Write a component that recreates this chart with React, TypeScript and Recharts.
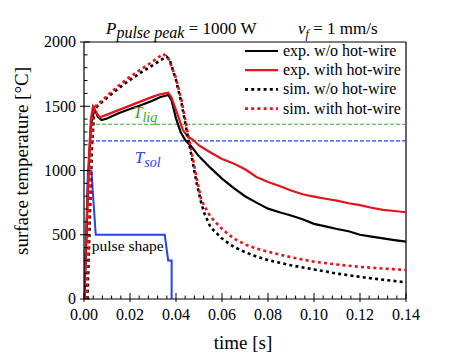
import React from "react";
import { LineChart, Line, XAxis, YAxis, ReferenceLine, ReferenceDot } from "recharts";

const FONT = '"Liberation Serif", "Times New Roman", Times, serif';
const RED = "#e5141b";
const BLUE = "#2443e8";
const GREEN = "#2faa24";
const serif = { fontFamily: FONT };

// ---- data ----
const expNoWireT = [0, 0.001, 0.002, 0.003, 0.0045, 0.006, 0.0076, 0.010, 0.015, 0.020, 0.025, 0.030, 0.033, 0.0366, 0.038, 0.040, 0.042, 0.044, 0.047, 0.050, 0.055, 0.060, 0.065, 0.070, 0.075, 0.080, 0.085, 0.090, 0.095, 0.100, 0.105, 0.110, 0.115, 0.120, 0.125, 0.130, 0.135, 0.140];
const expNoWireV = [0, 450, 1000, 1350, 1480, 1420, 1393, 1405, 1445, 1478, 1510, 1545, 1570, 1588, 1550, 1406, 1300, 1237, 1180, 1110, 1020, 937, 865, 800, 750, 703, 675, 650, 620, 585, 565, 545, 527, 500, 485, 472, 458, 446];

const expWireT = [0, 0.001, 0.002, 0.003, 0.0039, 0.005, 0.0068, 0.010, 0.015, 0.020, 0.025, 0.030, 0.033, 0.0366, 0.038, 0.041, 0.043, 0.045, 0.0475, 0.050, 0.055, 0.060, 0.065, 0.070, 0.075, 0.080, 0.085, 0.090, 0.095, 0.100, 0.105, 0.110, 0.115, 0.120, 0.125, 0.130, 0.135, 0.140];
const expWireV = [0, 500, 1050, 1400, 1497, 1460, 1414, 1435, 1470, 1505, 1540, 1575, 1593, 1606, 1570, 1419, 1315, 1265, 1237, 1195, 1140, 1090, 1055, 1010, 950, 910, 880, 845, 815, 797, 780, 765, 745, 730, 710, 693, 685, 675];

const simNoWireT = [0.0015, 0.0025, 0.0035, 0.0045, 0.006, 0.010, 0.015, 0.020, 0.025, 0.030, 0.033, 0.0359, 0.0373, 0.040, 0.0424, 0.0446, 0.0468, 0.049, 0.051, 0.0525, 0.055, 0.060, 0.065, 0.070, 0.075, 0.080, 0.090, 0.100, 0.110, 0.120, 0.130, 0.140];
const simNoWireV = [0, 600, 1200, 1470, 1505, 1565, 1640, 1705, 1765, 1820, 1855, 1886, 1860, 1704, 1523, 1315, 1107, 900, 745, 660, 560, 470, 407, 365, 330, 303, 262, 230, 198, 172, 150, 130];

const simWireT = [0.001, 0.002, 0.003, 0.004, 0.005, 0.010, 0.015, 0.020, 0.025, 0.030, 0.0344, 0.0365, 0.040, 0.0424, 0.0446, 0.0468, 0.049, 0.051, 0.0525, 0.055, 0.060, 0.065, 0.070, 0.075, 0.080, 0.090, 0.100, 0.110, 0.120, 0.130, 0.140];
const simWireV = [0, 550, 1150, 1450, 1500, 1580, 1660, 1730, 1790, 1850, 1907, 1880, 1720, 1545, 1340, 1140, 940, 770, 720, 640, 545, 472, 425, 392, 368, 325, 290, 268, 250, 237, 226];

const pulseT = [0.0003, 0.0017, 0.0032, 0.0051, 0.0351, 0.0366, 0.0381, 0.0381];
const pulseV = [0, 1000, 1000, 500, 500, 300, 300, 0];

const T_LIQ = 1360;
const T_SOL = 1230;

const xMajorTicks = [0, 0.02, 0.04, 0.06, 0.08, 0.1, 0.12, 0.14];
const xAllTicks = [0, 0.004, 0.008, 0.012, 0.016, 0.02, 0.024, 0.028, 0.032, 0.036, 0.04, 0.044, 0.048, 0.052, 0.056, 0.06, 0.064, 0.068, 0.072, 0.076, 0.08, 0.084, 0.088, 0.092, 0.096, 0.1, 0.104, 0.108, 0.112, 0.116, 0.12, 0.124, 0.128, 0.132, 0.136, 0.14];
const yMajorTicks = [0, 500, 1000, 1500, 2000];
const yAllTicks = [0, 100, 200, 300, 400, 500, 600, 700, 800, 900, 1000, 1100, 1200, 1300, 1400, 1500, 1600, 1700, 1800, 1900, 2000];

const legendLabels = ["exp. w/o hot-wire", "exp. with hot-wire", "sim. w/o hot-wire", "sim. with hot-wire"];
const legendColors = ["#000", RED, "#000", RED];
const legendDashed = [false, false, true, true];

const zip = (t: number[], v: number[]) => t.map((x, i) => ({ t: x, v: v[i] }));

const isMajor = (arr: number[], v: number) => arr.some((m) => Math.abs(m - v) < 1e-9);

const XTick = (props: any) => {
  const { x, y, payload } = props;
  const v = payload.value as number;
  const major = isMajor(xMajorTicks, v);
  return (
    <g>
      <line x1={x} x2={x} y1={y + (major ? 3 : 0)} y2={y - (major ? 6 : 3.5)} stroke="#000" strokeWidth={1} />
      {major && (
        <text x={x} y={y + 21} textAnchor="middle" style={serif} fontSize={16} fill="#000">
          {v.toFixed(2)}
        </text>
      )}
    </g>
  );
};

const YTick = (props: any) => {
  const { x, y, payload } = props;
  const v = payload.value as number;
  const major = isMajor(yMajorTicks, v);
  return (
    <g>
      <line x1={x - (major ? 4 : 0)} x2={x + (major ? 6 : 3.5)} y1={y} y2={y} stroke="#000" strokeWidth={1} />
      {major && (
        <text x={x - 8} y={y} dy="0.34em" textAnchor="end" style={serif} fontSize={16} fill="#000">
          {v}
        </text>
      )}
    </g>
  );
};

const labelShape = (main: string, sub: string, color: string) => (props: any) => {
  const { cx, cy } = props;
  return (
    <text x={cx} y={cy} style={{ fontFamily: FONT, fontStyle: "italic" }} fontSize={17} fill={color}>
      {main}
      <tspan fontSize={14} dy={4}>{sub}</tspan>
    </text>
  );
};

const pulseLabel = (props: any) => {
  const { cx, cy } = props;
  return (
    <text x={cx} y={cy} style={serif} fontSize={15.5} fill="#000">
      pulse shape
    </text>
  );
};

export default function App() {
  return (
    <div style={{ position: "absolute", left: 0, top: 0, width: 474, height: 361, background: "#fff", fontFamily: FONT }}>
      <LineChart width={474} height={361} margin={{ top: 42, right: 68, bottom: 0, left: 0 }} style={serif}>
        <XAxis
          type="number"
          dataKey="t"
          domain={[0, 0.14]}
          allowDataOverflow
          ticks={xAllTicks}
          interval={0}
          height={62}
          tickSize={0}
          tickMargin={0}
          tick={<XTick />}
          axisLine={{ stroke: "#000", strokeWidth: 1.2 }}
        />
        <YAxis
          type="number"
          dataKey="v"
          domain={[0, 2000]}
          allowDataOverflow
          ticks={yAllTicks}
          interval={0}
          width={84}
          tickSize={0}
          tickMargin={0}
          tick={<YTick />}
          axisLine={{ stroke: "#000", strokeWidth: 1.2 }}
        />
        <ReferenceLine y={2000} stroke="#000" strokeWidth={1.2} />
        <ReferenceLine x={0.14} stroke="#000" strokeWidth={1.2} />
        <ReferenceLine y={T_LIQ} stroke={GREEN} strokeWidth={1.2} strokeDasharray="4 2" />
        <ReferenceLine y={T_SOL} stroke={BLUE} strokeWidth={1.2} strokeDasharray="4 2" />
        <Line data={zip(pulseT, pulseV)} dataKey="v" stroke={BLUE} strokeWidth={2} dot={false} isAnimationActive={false} />
        <Line data={zip(expNoWireT, expNoWireV)} dataKey="v" stroke="#000" strokeWidth={2.2} dot={false} isAnimationActive={false} />
        <Line data={zip(expWireT, expWireV)} dataKey="v" stroke={RED} strokeWidth={2.2} dot={false} isAnimationActive={false} />
        <Line data={zip(simNoWireT, simNoWireV)} dataKey="v" stroke="#000" strokeWidth={2.6} strokeDasharray="3 3.2" dot={false} isAnimationActive={false} />
        <Line data={zip(simWireT, simWireV)} dataKey="v" stroke={RED} strokeWidth={2.6} strokeDasharray="3 3.2" dot={false} isAnimationActive={false} />
        <ReferenceDot x={0.0213} y={1406} r={0} ifOverflow="visible" shape={labelShape("T", "liq", GREEN)} />
        <ReferenceDot x={0.0221} y={1056} r={0} ifOverflow="visible" shape={labelShape("T", "sol", BLUE)} />
        <ReferenceDot x={0.0034} y={376} r={0} ifOverflow="visible" shape={pulseLabel} />
      </LineChart>
      <svg width={474} height={361} style={{ position: "absolute", left: 0, top: 0, pointerEvents: "none", fontFamily: FONT }}>
        <text x={106} y={34} fontSize={17} fill="#000">
          <tspan fontStyle="italic">P</tspan>
          <tspan fontStyle="italic" fontSize={16} dy={4}>pulse peak</tspan>
          <tspan dy={-4}> = 1000 W</tspan>
        </text>
        <text x={298} y={34} fontSize={17} fill="#000">
          <tspan fontStyle="italic">v</tspan>
          <tspan fontStyle="italic" fontSize={12} dy={4}>f</tspan>
          <tspan dy={-4}> = 1 mm/s</tspan>
        </text>
        {legendLabels.map((lab, i) => {
          const yy = 51 + i * 19.2;
          return (
            <g key={lab}>
              <line
                x1={245}
                x2={278}
                y1={yy}
                y2={yy}
                stroke={legendColors[i]}
                strokeWidth={legendDashed[i] ? 2.6 : 2.2}
                strokeDasharray={legendDashed[i] ? "3 3.2" : undefined}
              />
              <text x={283} y={yy + 5} fontSize={16} fill="#000">
                {lab}
              </text>
            </g>
          );
        })}
        <text x={0} y={0} transform="translate(28,161) rotate(-90)" textAnchor="middle" fontSize={19} fill="#000">
          surface temperature [°C]
        </text>
        <text x={243} y={349} textAnchor="middle" fontSize={19} fill="#000">
          time [s]
        </text>
      </svg>
    </div>
  );
}
